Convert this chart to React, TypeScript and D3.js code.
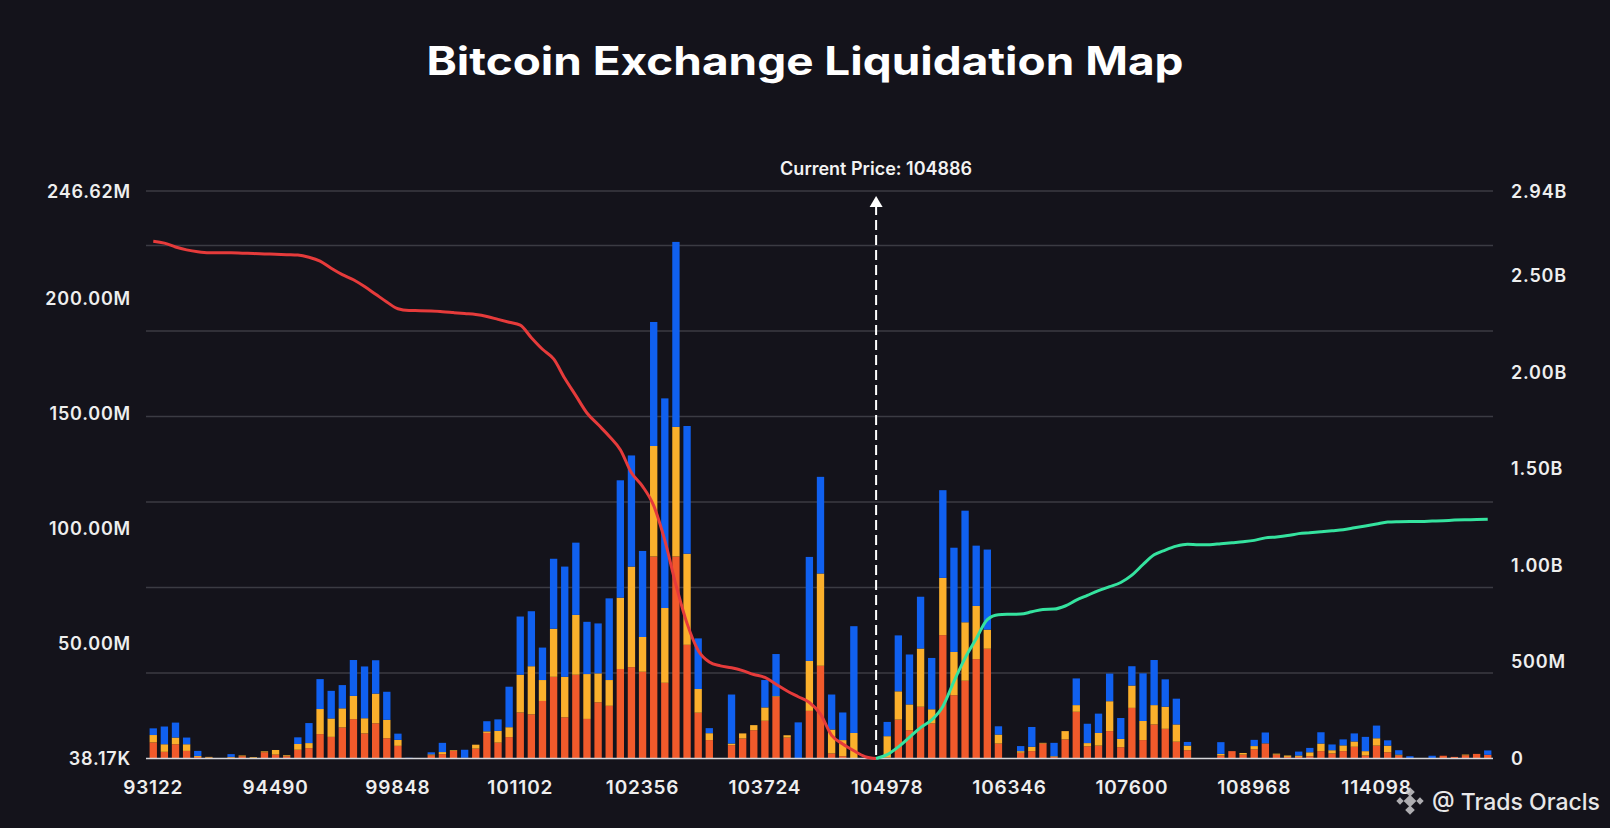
import { useEffect, useRef } from 'react'
import * as d3 from 'd3'

const WIDTH = 1610
const HEIGHT = 828
const BG = '#14131b'
const FONT = 'Inter, "DejaVu Sans", sans-serif'

// x axis: 121 price bins, a label on every 11th bin
const binCount = 121
const tickEvery = 11
const tickLabels = [
  '93122', '94490', '99848', '101102', '102356', '103724',
  '104978', '106346', '107600', '108968', '114098',
]

// liquidation volume per bin, millions USD (stacked bottom -> top)
const redSeg = [
  7.0, 2.9, 6.2, 3.3, 0.7, 0.4, 0, 0.4, 1.0, 0.3, 2.7,
  1.7, 1.0, 3.8, 4.5, 10.6, 9.4, 13.5, 17.1, 10.9, 15.3, 8.8,
  5.5, 0, 0, 1.4, 1.9, 3.3, 0.3, 4.3, 11.1, 6.9, 9.3,
  20.0, 19.2, 25.0, 35.5, 17.9, 36.4, 17.2, 24.4, 22.9, 38.9, 39.7,
  37.7, 87.8, 32.9, 87.8, 49.4, 19.9, 8.0, 0, 5.8, 8.7, 12.3,
  16.4, 26.8, 9.1, 0.2, 20.7, 40.3, 2.2, 1.0, 0.2, 0, 0,
  0.4, 16.9, 12.3, 22.5, 15.2, 53.6, 27.5, 33.8, 43.2, 47.7, 6.5,
  0, 2.5, 3.2, 6.5, 0.7, 8.3, 20.3, 5.3, 5.6, 11.9, 4.9,
  22.0, 8.0, 14.8, 12.9, 7.3, 3.6, 0, 0, 1.3, 3.2, 1.7,
  4.0, 6.5, 1.7, 0.7, 0.7, 1.0, 3.2, 2.2, 3.2, 5.1, 1.3,
  5.6, 2.7, 1.3, 0, 0, 0, 1.2, 0.7, 1.4, 2.0, 1.6,
]
const orangeSeg = [
  3.2, 3.3, 2.9, 2.9, 0.4, 0.3, 0, 0.3, 0.3, 0.3, 0.4,
  2.0, 0.4, 2.5, 2.2, 10.9, 8.0, 8.3, 10.1, 6.6, 12.9, 8.0,
  2.6, 0, 0, 0.4, 0.9, 0.3, 0, 1.7, 0.7, 5.1, 4.3,
  16.4, 20.9, 9.1, 20.9, 17.6, 26.0, 19.5, 12.6, 11.2, 31.0, 43.7,
  15.1, 48.0, 32.5, 56.3, 39.6, 10.3, 3.0, 0, 0.7, 2.2, 2.2,
  5.8, 0.3, 1.0, 0, 21.7, 40.1, 10.4, 7.0, 10.9, 0, 0,
  9.3, 12.3, 11.2, 25.3, 6.2, 24.9, 18.8, 25.4, 23.1, 8.3, 3.9,
  0, 0.7, 1.9, 0.3, 0.3, 3.6, 2.9, 1.4, 5.5, 13.0, 3.6,
  9.7, 8.3, 8.4, 9.6, 7.5, 2.0, 0, 0, 0.7, 0, 0.7,
  1.4, 0.1, 0.4, 0.6, 0.6, 1.7, 3.3, 1.4, 2.5, 2.3, 1.9,
  3.2, 2.9, 0.4, 0, 0, 0, 0, 0, 0.3, 0, 0,
]
const blueSeg = [
  2.9, 7.7, 6.5, 2.9, 2.2, 0, 0, 1.2, 0, 0, 0,
  0, 0, 2.9, 8.7, 13.0, 12.0, 10.1, 15.6, 22.5, 14.5, 12.2,
  2.7, 0.3, 0, 0.9, 4.0, 0, 3.5, 0, 4.4, 5.0, 17.6,
  25.3, 23.9, 14.1, 30.4, 47.9, 31.4, 22.7, 21.7, 35.5, 51.0, 48.3,
  37.4, 53.9, 91.1, 80.4, 55.5, 22.0, 2.2, 0, 21.3, 0, 0,
  11.9, 18.3, 0, 15.5, 45.2, 42.0, 15.2, 12.0, 46.4, 0, 0,
  6.2, 24.3, 21.7, 22.5, 22.3, 38.1, 45.3, 48.5, 26.2, 34.8, 3.6,
  0, 2.2, 8.6, 0, 5.8, 0, 11.6, 8.4, 8.4, 12.0, 9.1,
  8.4, 20.7, 19.6, 11.9, 11.2, 1.6, 0, 0, 5.1, 0, 0,
  2.7, 4.7, 0, 0, 1.7, 1.9, 4.9, 2.5, 2.6, 3.5, 6.2,
  5.5, 2.3, 1.9, 1.0, 0, 1.2, 0, 0, 0, 0, 1.9,
]

// cumulative liquidation, billions USD
// left of current price: bins 0..65
const shortCum = [
  2.68, 2.67, 2.65, 2.635, 2.625, 2.62, 2.62, 2.62, 2.618, 2.616, 2.614,
  2.612, 2.61, 2.608, 2.597, 2.577, 2.54, 2.507, 2.48, 2.445, 2.405, 2.365,
  2.33, 2.321, 2.32, 2.318, 2.315, 2.31, 2.305, 2.3, 2.29, 2.275, 2.26,
  2.245, 2.18, 2.12, 2.07, 1.97, 1.88, 1.79, 1.73, 1.67, 1.6, 1.48,
  1.41, 1.31, 1.13, 0.9, 0.7, 0.56, 0.5, 0.48, 0.47, 0.455, 0.435,
  0.42, 0.385, 0.35, 0.32, 0.29, 0.23, 0.12, 0.075, 0.04, 0.01, 0,
]
// right of current price: bins 65..120
const longCum = [
  0, 0.02, 0.06, 0.11, 0.16, 0.2, 0.27, 0.4, 0.52, 0.62, 0.72, 0.745,
  0.747, 0.748, 0.76, 0.772, 0.774, 0.79, 0.82, 0.845, 0.87, 0.89, 0.912,
  0.95, 1.005, 1.055, 1.08, 1.1, 1.11, 1.108, 1.108, 1.113, 1.118, 1.123,
  1.13, 1.143, 1.148, 1.155, 1.165, 1.17, 1.175, 1.18, 1.185, 1.195, 1.205,
  1.215, 1.225, 1.227, 1.228, 1.228, 1.23, 1.232, 1.235, 1.237, 1.238, 1.24,
]

const currentPrice = 104886
const currentBin = 65

const leftTicks = [0.03817, 50, 100, 150, 200, 246.62]
const leftTickText = ['38.17K', '50.00M', '100.00M', '150.00M', '200.00M', '246.62M']
const rightTicks = [0, 0.5, 1, 1.5, 2, 2.5, 2.94]
const rightTickText = ['0', '500M', '1.00B', '1.50B', '2.00B', '2.50B', '2.94B']
// horizontal grid lines, in left-axis millions
const gridValues = [37.16, 74.32, 111.48, 148.64, 185.8, 222.96, 246.62]

const colors = { red: '#f15a2b', orange: '#fbb02c', blue: '#1060ef' }

const App = () => {
  const ref = useRef<SVGSVGElement>(null)

  useEffect(() => {
    const svg = d3.select(ref.current as SVGSVGElement)
    svg.selectAll('*').remove()

    const x = d3
      .scaleBand<number>()
      .domain(d3.range(binCount))
      .range([147.7, 1493.3])
      .paddingInner(0.34)
      .paddingOuter(0.17)
    const yLeft = d3.scaleLinear().domain([0, 246.62]).range([758.5, 191])
    const yRight = d3.scaleLinear().domain([0, 2.94]).range([758.5, 191])
    const cx = (i: number) => (x(i) as number) + x.bandwidth() / 2

    const plotLeft = 146
    const plotRight = 1493

    // grid
    svg
      .append('g')
      .selectAll('line')
      .data(gridValues)
      .enter()
      .append('line')
      .attr('x1', plotLeft)
      .attr('x2', plotRight)
      .attr('y1', (d) => yLeft(d))
      .attr('y2', (d) => yLeft(d))
      .attr('stroke', '#3b3b43')
      .attr('stroke-width', 1.5)

    // stacked bars
    const table = d3.range(binCount).map((i) => ({
      i,
      red: redSeg[i],
      orange: orangeSeg[i],
      blue: blueSeg[i],
    }))
    const series = d3.stack<any>().keys(['red', 'orange', 'blue'])(table)

    svg
      .append('g')
      .selectAll('g')
      .data(series)
      .enter()
      .append('g')
      .attr('fill', (s) => (colors as any)[s.key])
      .selectAll('rect')
      .data((s) => s)
      .enter()
      .append('rect')
      .attr('x', (d) => x(d.data.i) as number)
      .attr('width', x.bandwidth())
      .attr('y', (d) => yLeft(d[1]))
      .attr('height', (d) => Math.max(0, yLeft(d[0]) - yLeft(d[1])))

    // baseline
    svg
      .append('line')
      .attr('x1', plotLeft)
      .attr('x2', plotRight)
      .attr('y1', yLeft(0))
      .attr('y2', yLeft(0))
      .attr('stroke', '#d6d6da')
      .attr('stroke-width', 1.5)

    // cumulative lines
    const line = d3
      .line<[number, number]>()
      .x((d) => cx(d[0]))
      .y((d) => yRight(d[1]))
      .curve(d3.curveMonotoneX)

    svg
      .append('path')
      .datum(shortCum.map((v, i) => [i, v] as [number, number]))
      .attr('d', line)
      .attr('fill', 'none')
      .attr('stroke', '#e63b3b')
      .attr('stroke-width', 3)
      .attr('stroke-linejoin', 'round')

    svg
      .append('path')
      .datum(longCum.map((v, i) => [currentBin + i, v] as [number, number]))
      .attr('d', line)
      .attr('fill', 'none')
      .attr('stroke', '#35e39f')
      .attr('stroke-width', 3)
      .attr('stroke-linejoin', 'round')

    // current price marker
    const px = cx(currentBin)
    svg
      .append('line')
      .attr('x1', px)
      .attr('x2', px)
      .attr('y1', 205)
      .attr('y2', yLeft(0))
      .attr('stroke', '#ffffff')
      .attr('stroke-width', 2)
      .attr('stroke-dasharray', '10 5')
    svg
      .append('path')
      .attr('d', `M${px},196 L${px - 6.5},207 L${px + 6.5},207 Z`)
      .attr('fill', '#ffffff')
    svg
      .append('text')
      .attr('x', px)
      .attr('y', 175)
      .attr('text-anchor', 'middle')
      .attr('font-family', FONT)
      .attr('font-weight', 600)
      .attr('font-size', 18)
      .attr('fill', '#f2f2f2')
      .text(`Current Price: ${currentPrice}`)

    const axisText = (sel: d3.Selection<any, any, any, any>, size: number) =>
      sel
        .attr('font-family', FONT)
        .attr('font-weight', 600)
        .attr('font-size', size)
        .attr('letter-spacing', 0.8)
        .attr('fill', '#eeeeee')

    // left axis
    svg
      .append('g')
      .call(axisText, 18)
      .attr('text-anchor', 'end')
      .selectAll('text')
      .data(leftTicks)
      .enter()
      .append('text')
      .attr('x', 131)
      .attr('y', (d) => yLeft(d) + 6.5)
      .text((_, i) => leftTickText[i])

    // right axis
    svg
      .append('g')
      .call(axisText, 18)
      .attr('text-anchor', 'start')
      .selectAll('text')
      .data(rightTicks)
      .enter()
      .append('text')
      .attr('x', 1511)
      .attr('y', (d) => yRight(d) + 6.5)
      .text((_, i) => rightTickText[i])

    // bottom axis
    svg
      .append('g')
      .call(axisText, 19)
      .attr('text-anchor', 'middle')
      .selectAll('text')
      .data(tickLabels)
      .enter()
      .append('text')
      .attr('x', (_, i) => cx(i * tickEvery))
      .attr('y', 794)
      .text((d) => d)

    // title
    svg
      .append('text')
      .attr('x', WIDTH / 2)
      .attr('y', 75)
      .attr('text-anchor', 'middle')
      .attr('font-family', FONT)
      .attr('font-weight', 700)
      .attr('font-size', 39)
      .attr('textLength', 757)
      .attr('lengthAdjust', 'spacingAndGlyphs')
      .attr('fill', '#ffffff')
      .text('Bitcoin Exchange Liquidation Map')

    // watermark
    const logo = svg
      .append('g')
      .attr('transform', 'translate(1410, 801)')
      .attr('fill', '#c9c9cc')
      .attr('opacity', 0.85)
    const diamonds = [
      [0, 0, 4.5],
      [-10, 0, 2.6],
      [10, 0, 2.6],
      [0, -9, 3.4],
      [0, 9, 3.4],
    ]
    logo
      .selectAll('rect')
      .data(diamonds)
      .enter()
      .append('rect')
      .attr('x', (d) => d[0] - d[2])
      .attr('y', (d) => d[1] - d[2])
      .attr('width', (d) => d[2] * 2)
      .attr('height', (d) => d[2] * 2)
      .attr('transform', (d) => `rotate(45 ${d[0]} ${d[1]})`)

    svg
      .append('text')
      .attr('x', 1432)
      .attr('y', 810)
      .attr('font-family', FONT)
      .attr('font-weight', 500)
      .attr('font-size', 23)
      .attr('fill', '#ffffff')
      .attr('opacity', 0.9)
      .text('@ Trads Oracls')
  }, [])

  return (
    <div style={{ position: 'fixed', left: 0, top: 0, width: WIDTH, height: HEIGHT, background: BG }}>
      <svg ref={ref} width={WIDTH} height={HEIGHT} style={{ display: 'block' }} />
    </div>
  )
}

export default App
